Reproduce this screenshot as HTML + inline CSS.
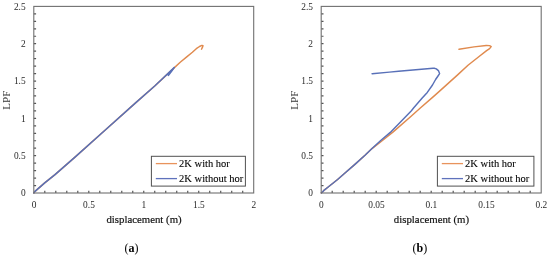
<!DOCTYPE html>
<html><head><meta charset="utf-8"><style>
html,body{margin:0;padding:0;background:#fff;}
svg{display:block;}
text{font-family:'Liberation Serif','Times New Roman',serif;fill:#262626;}
.tl{font-size:9.4px;fill:#2a2a2a;}
.at{font-size:10.8px;fill:#111;stroke:#111;stroke-width:0.18px;}
.lg{font-size:10.5px;fill:#000;stroke:#000;stroke-width:0.1px;}
.lt{font-size:12px;fill:#000;}
.yl{font-size:9.8px;fill:#333;}
</style></head><body>
<svg width="550" height="256" viewBox="0 0 550 256">
<rect width="550" height="256" fill="#fff"/>
<path d="M33.80 193.00 L35.00 191.40 L45.00 182.60 L55.00 174.60 L75.00 157.10 L105.00 130.20 L135.00 103.40 L155.00 85.70 L174.40 67.60 L180.50 62.00 L186.75 56.90 L192.40 52.30 L196.30 48.70 L199.50 46.50 L201.90 45.40 L203.00 45.80 L202.40 47.40 L201.50 49.20" fill="none" stroke="#E08A4E" stroke-width="1.45" stroke-linejoin="round" stroke-linecap="round"/>
<path d="M33.80 193.00 L35.00 191.40 L45.00 182.60 L55.00 174.60 L75.00 157.10 L105.00 130.20 L135.00 103.40 L155.00 85.70 L174.40 67.40 L171.40 71.60 L168.50 75.40 L167.60 74.30" fill="none" stroke="#5870B8" stroke-width="1.45" stroke-linejoin="round" stroke-linecap="round"/>
<path d="M44.79 193.00V190.70M55.79 193.00V190.70M66.78 193.00V190.70M77.78 193.00V190.70M88.78 193.00V190.70M99.77 193.00V190.70M110.76 193.00V190.70M121.76 193.00V190.70M132.75 193.00V190.70M143.75 193.00V190.70M154.74 193.00V190.70M165.74 193.00V190.70M176.74 193.00V190.70M187.73 193.00V190.70M198.72 193.00V190.70M209.72 193.00V190.70M220.71 193.00V190.70M231.71 193.00V190.70M242.70 193.00V190.70M33.80 185.54H36.10M33.80 178.07H36.10M33.80 170.61H36.10M33.80 163.14H36.10M33.80 155.68H36.10M33.80 148.22H36.10M33.80 140.75H36.10M33.80 133.29H36.10M33.80 125.82H36.10M33.80 118.36H36.10M33.80 110.90H36.10M33.80 103.43H36.10M33.80 95.97H36.10M33.80 88.50H36.10M33.80 81.04H36.10M33.80 73.58H36.10M33.80 66.11H36.10M33.80 58.65H36.10M33.80 51.18H36.10M33.80 43.72H36.10M33.80 36.26H36.10M33.80 28.79H36.10M33.80 21.33H36.10M33.80 13.86H36.10" stroke="#555" stroke-width="1.2" fill="none"/>
<rect x="33.80" y="6.40" width="219.90" height="186.60" fill="none" stroke="#707070" stroke-width="1.1"/>
<text x="34.00" y="208.2" text-anchor="middle" class="tl">0</text>
<text x="88.97" y="208.2" text-anchor="middle" class="tl">0.5</text>
<text x="143.95" y="208.2" text-anchor="middle" class="tl">1</text>
<text x="198.92" y="208.2" text-anchor="middle" class="tl">1.5</text>
<text x="253.90" y="208.2" text-anchor="middle" class="tl">2</text>
<text x="25.60" y="196.30" text-anchor="end" class="tl">0</text>
<text x="25.60" y="158.98" text-anchor="end" class="tl">0.5</text>
<text x="25.60" y="121.66" text-anchor="end" class="tl">1</text>
<text x="25.60" y="84.34" text-anchor="end" class="tl">1.5</text>
<text x="25.60" y="47.02" text-anchor="end" class="tl">2</text>
<text x="25.60" y="9.70" text-anchor="end" class="tl">2.5</text>
<text x="144.05" y="222.7" text-anchor="middle" class="at">displacement (m)</text>
<text transform="translate(9.80,100.20) rotate(-90) scale(1.12,1)" text-anchor="middle" class="yl">LPF</text>
<rect x="151.40" y="156.30" width="94.00" height="29.80" fill="#fff" stroke="#505050" stroke-width="1"/>
<path d="M155.80 163.60H177.00" stroke="#E8935C" stroke-width="1.3"/>
<path d="M155.80 178.60H177.00" stroke="#5F72BC" stroke-width="1.3"/>
<text x="179.10" y="167.30" class="lg">2K with hor</text>
<text x="179.10" y="182.30" class="lg">2K without hor</text>
<text x="131.55" y="251.9" text-anchor="middle" class="lt">(<tspan font-weight="bold">a</tspan>)</text>
<path d="M321.30 192.90 L322.50 192.00 L324.25 190.10 L328.20 187.00 L337.60 179.50 L344.70 173.30 L355.20 164.10 L365.00 155.30 L372.00 148.60 L381.50 141.20 L393.20 131.90 L411.40 116.00 L420.30 108.00 L433.40 96.60 L439.30 91.40 L457.90 74.60 L468.00 65.30 L479.40 56.20 L486.60 50.60 L489.60 48.60 L491.20 46.60 L489.60 45.60 L486.20 45.50 L474.00 46.90 L459.00 49.30" fill="none" stroke="#E08A4E" stroke-width="1.45" stroke-linejoin="round" stroke-linecap="round"/>
<path d="M321.30 192.90 L322.50 192.00 L324.25 190.10 L328.20 187.00 L337.60 179.50 L344.70 173.30 L355.20 164.10 L365.00 155.30 L372.00 148.60 L381.00 140.20 L390.30 132.40 L411.40 110.70 L413.75 107.80 L422.20 98.10 L427.30 92.40 L432.50 85.00 L435.60 79.50 L438.00 76.00 L439.60 73.60 L438.40 70.60 L436.30 68.90 L434.30 68.30 L433.00 68.20 L398.50 71.30 L389.40 72.10 L372.10 73.70" fill="none" stroke="#5870B8" stroke-width="1.45" stroke-linejoin="round" stroke-linecap="round"/>
<path d="M332.20 193.00V190.70M343.20 193.00V190.70M354.20 193.00V190.70M365.20 193.00V190.70M376.20 193.00V190.70M387.20 193.00V190.70M398.20 193.00V190.70M409.20 193.00V190.70M420.20 193.00V190.70M431.20 193.00V190.70M442.20 193.00V190.70M453.20 193.00V190.70M464.20 193.00V190.70M475.20 193.00V190.70M486.20 193.00V190.70M497.20 193.00V190.70M508.20 193.00V190.70M519.20 193.00V190.70M530.20 193.00V190.70M321.20 185.54H323.50M321.20 178.07H323.50M321.20 170.61H323.50M321.20 163.14H323.50M321.20 155.68H323.50M321.20 148.22H323.50M321.20 140.75H323.50M321.20 133.29H323.50M321.20 125.82H323.50M321.20 118.36H323.50M321.20 110.90H323.50M321.20 103.43H323.50M321.20 95.97H323.50M321.20 88.50H323.50M321.20 81.04H323.50M321.20 73.58H323.50M321.20 66.11H323.50M321.20 58.65H323.50M321.20 51.18H323.50M321.20 43.72H323.50M321.20 36.26H323.50M321.20 28.79H323.50M321.20 21.33H323.50M321.20 13.86H323.50" stroke="#555" stroke-width="1.2" fill="none"/>
<rect x="321.20" y="6.40" width="220.00" height="186.60" fill="none" stroke="#707070" stroke-width="1.1"/>
<text x="321.40" y="208.2" text-anchor="middle" class="tl">0</text>
<text x="376.40" y="208.2" text-anchor="middle" class="tl">0.05</text>
<text x="431.40" y="208.2" text-anchor="middle" class="tl">0.1</text>
<text x="486.40" y="208.2" text-anchor="middle" class="tl">0.15</text>
<text x="541.40" y="208.2" text-anchor="middle" class="tl">0.2</text>
<text x="313.00" y="196.30" text-anchor="end" class="tl">0</text>
<text x="313.00" y="158.98" text-anchor="end" class="tl">0.5</text>
<text x="313.00" y="121.66" text-anchor="end" class="tl">1</text>
<text x="313.00" y="84.34" text-anchor="end" class="tl">1.5</text>
<text x="313.00" y="47.02" text-anchor="end" class="tl">2</text>
<text x="313.00" y="9.70" text-anchor="end" class="tl">2.5</text>
<text x="431.50" y="222.7" text-anchor="middle" class="at">displacement (m)</text>
<text transform="translate(297.80,100.20) rotate(-90) scale(1.12,1)" text-anchor="middle" class="yl">LPF</text>
<rect x="437.40" y="156.30" width="96.50" height="29.80" fill="#fff" stroke="#505050" stroke-width="1"/>
<path d="M441.80 163.60H463.00" stroke="#E8935C" stroke-width="1.3"/>
<path d="M441.80 178.60H463.00" stroke="#5F72BC" stroke-width="1.3"/>
<text x="465.10" y="167.30" class="lg">2K with hor</text>
<text x="465.10" y="182.30" class="lg">2K without hor</text>
<text x="419.80" y="251.9" text-anchor="middle" class="lt">(<tspan font-weight="bold">b</tspan>)</text>
</svg>
</body></html>
